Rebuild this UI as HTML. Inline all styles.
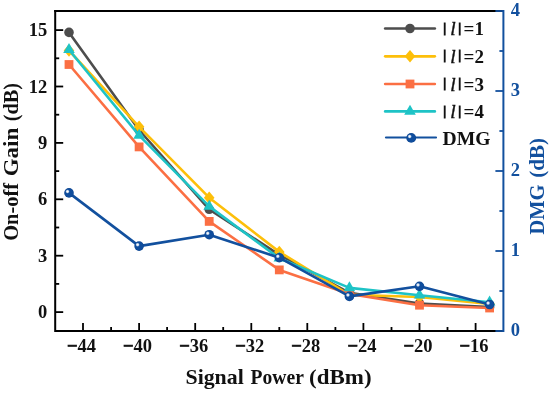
<!DOCTYPE html>
<html><head><meta charset="utf-8"><title>On-off Gain vs Signal Power</title>
<style>
html,body{margin:0;padding:0;background:#fff;}
body{width:550px;height:393px;overflow:hidden;}
svg{display:block;font-family:"Liberation Serif",serif;font-weight:bold;}
</style></head><body>
<svg width="550" height="393" viewBox="0 0 550 393">
<defs><radialGradient id="sg" cx="0.5" cy="0.5" r="0.5"><stop offset="0" stop-color="#0f4d9d"/><stop offset="0.75" stop-color="#0f4d9d"/><stop offset="1" stop-color="#0c4591"/></radialGradient>
<radialGradient id="hl" cx="0.5" cy="0.5" r="0.5"><stop offset="0" stop-color="#fff" stop-opacity="1"/><stop offset="0.45" stop-color="#fff" stop-opacity="0.85"/><stop offset="1" stop-color="#9cc4ee" stop-opacity="0"/></radialGradient></defs>
<rect width="550" height="393" fill="#fff"/>
<g stroke="#000" stroke-width="2" fill="none" stroke-linecap="square">
<path d="M55.2,11.0V331.0H502.4"/><path d="M55.2,11.0H502.4"/>
<path d="M55.2,312.1h8" stroke-linecap="butt" stroke-width="1.8"/>
<path d="M55.2,283.9h4" stroke-linecap="butt" stroke-width="1.8"/>
<path d="M55.2,255.7h8" stroke-linecap="butt" stroke-width="1.8"/>
<path d="M55.2,227.5h4" stroke-linecap="butt" stroke-width="1.8"/>
<path d="M55.2,199.3h8" stroke-linecap="butt" stroke-width="1.8"/>
<path d="M55.2,171.1h4" stroke-linecap="butt" stroke-width="1.8"/>
<path d="M55.2,142.9h8" stroke-linecap="butt" stroke-width="1.8"/>
<path d="M55.2,114.7h4" stroke-linecap="butt" stroke-width="1.8"/>
<path d="M55.2,86.5h8" stroke-linecap="butt" stroke-width="1.8"/>
<path d="M55.2,58.3h4" stroke-linecap="butt" stroke-width="1.8"/>
<path d="M55.2,30.1h8" stroke-linecap="butt" stroke-width="1.8"/>
<path d="M83.0,331.0v-8" stroke-linecap="butt" stroke-width="1.8"/>
<path d="M111.1,331.0v-4" stroke-linecap="butt" stroke-width="1.8"/>
<path d="M139.1,331.0v-8" stroke-linecap="butt" stroke-width="1.8"/>
<path d="M167.1,331.0v-4" stroke-linecap="butt" stroke-width="1.8"/>
<path d="M195.2,331.0v-8" stroke-linecap="butt" stroke-width="1.8"/>
<path d="M223.2,331.0v-4" stroke-linecap="butt" stroke-width="1.8"/>
<path d="M251.3,331.0v-8" stroke-linecap="butt" stroke-width="1.8"/>
<path d="M279.3,331.0v-4" stroke-linecap="butt" stroke-width="1.8"/>
<path d="M307.3,331.0v-8" stroke-linecap="butt" stroke-width="1.8"/>
<path d="M335.4,331.0v-4" stroke-linecap="butt" stroke-width="1.8"/>
<path d="M363.4,331.0v-8" stroke-linecap="butt" stroke-width="1.8"/>
<path d="M391.5,331.0v-4" stroke-linecap="butt" stroke-width="1.8"/>
<path d="M419.5,331.0v-8" stroke-linecap="butt" stroke-width="1.8"/>
<path d="M447.5,331.0v-4" stroke-linecap="butt" stroke-width="1.8"/>
<path d="M475.6,331.0v-8" stroke-linecap="butt" stroke-width="1.8"/>
</g>
<g stroke="#12509e" stroke-width="2" fill="none">
<path d="M503.4,10.0V332.0"/>
<path d="M503.4,331.0h-8" stroke-width="1.8"/>
<path d="M503.4,291.0h-4" stroke-width="1.8"/>
<path d="M503.4,251.0h-8" stroke-width="1.8"/>
<path d="M503.4,211.0h-4" stroke-width="1.8"/>
<path d="M503.4,171.0h-8" stroke-width="1.8"/>
<path d="M503.4,131.0h-4" stroke-width="1.8"/>
<path d="M503.4,91.0h-8" stroke-width="1.8"/>
<path d="M503.4,51.0h-4" stroke-width="1.8"/>
<path d="M503.4,11.0h-8" stroke-width="1.8"/>
</g>
<polyline points="69.0,32.4 139.1,130.0 209.2,209.3 279.3,254.8 349.4,292.8 419.5,303.5 489.6,307.0" fill="none" stroke="#4d4d4d" stroke-width="2.6" stroke-linejoin="round" stroke-linecap="round"/>
<circle cx="69.0" cy="32.4" r="4.8" fill="#4d4d4d"/>
<circle cx="139.1" cy="130.0" r="4.8" fill="#4d4d4d"/>
<circle cx="209.2" cy="209.3" r="4.8" fill="#4d4d4d"/>
<circle cx="279.3" cy="254.8" r="4.8" fill="#4d4d4d"/>
<circle cx="349.4" cy="292.8" r="4.8" fill="#4d4d4d"/>
<circle cx="419.5" cy="303.5" r="4.8" fill="#4d4d4d"/>
<circle cx="489.6" cy="307.0" r="4.8" fill="#4d4d4d"/>
<polyline points="69.0,50.5 139.1,126.8 209.2,197.7 279.3,251.9 349.4,294.8 419.5,297.0 489.6,304.0" fill="none" stroke="#fdbf0a" stroke-width="2.6" stroke-linejoin="round" stroke-linecap="round"/>
<path d="M63.7,50.5L69.0,44.3L74.3,50.5L69.0,56.7Z" fill="#fdbf0a"/>
<path d="M133.8,126.8L139.1,120.6L144.4,126.8L139.1,133.0Z" fill="#fdbf0a"/>
<path d="M203.9,197.7L209.2,191.5L214.5,197.7L209.2,203.9Z" fill="#fdbf0a"/>
<path d="M274.0,251.9L279.3,245.7L284.6,251.9L279.3,258.1Z" fill="#fdbf0a"/>
<path d="M344.1,294.8L349.4,288.6L354.7,294.8L349.4,301.0Z" fill="#fdbf0a"/>
<path d="M414.2,297.0L419.5,290.8L424.8,297.0L419.5,303.2Z" fill="#fdbf0a"/>
<path d="M484.3,304.0L489.6,297.8L494.9,304.0L489.6,310.2Z" fill="#fdbf0a"/>
<polyline points="69.0,64.5 139.1,146.9 209.2,221.4 279.3,269.9 349.4,294.0 419.5,305.2 489.6,308.0" fill="none" stroke="#fb6f43" stroke-width="2.6" stroke-linejoin="round" stroke-linecap="round"/>
<rect x="64.6" y="60.1" width="8.8" height="8.8" fill="#fb6f43"/>
<rect x="134.7" y="142.5" width="8.8" height="8.8" fill="#fb6f43"/>
<rect x="204.8" y="217.0" width="8.8" height="8.8" fill="#fb6f43"/>
<rect x="274.9" y="265.5" width="8.8" height="8.8" fill="#fb6f43"/>
<rect x="345.0" y="289.6" width="8.8" height="8.8" fill="#fb6f43"/>
<rect x="415.1" y="300.8" width="8.8" height="8.8" fill="#fb6f43"/>
<rect x="485.2" y="303.6" width="8.8" height="8.8" fill="#fb6f43"/>
<polyline points="69.0,49.8 139.1,135.4 209.2,206.4 279.3,258.3 349.4,287.9 419.5,295.3 489.6,302.2" fill="none" stroke="#1ec3c6" stroke-width="2.6" stroke-linejoin="round" stroke-linecap="round"/>
<path d="M63.2,53.1L69.0,43.1L74.8,53.1Z" fill="#1ec3c6"/>
<path d="M133.3,138.7L139.1,128.7L144.9,138.7Z" fill="#1ec3c6"/>
<path d="M203.4,209.7L209.2,199.7L215.0,209.7Z" fill="#1ec3c6"/>
<path d="M273.5,261.6L279.3,251.6L285.1,261.6Z" fill="#1ec3c6"/>
<path d="M343.6,291.2L349.4,281.2L355.2,291.2Z" fill="#1ec3c6"/>
<path d="M413.7,298.6L419.5,288.6L425.3,298.6Z" fill="#1ec3c6"/>
<path d="M483.8,305.5L489.6,295.5L495.4,305.5Z" fill="#1ec3c6"/>
<polyline points="69.0,192.9 139.1,246.1 209.2,234.7 279.3,257.7 349.4,296.4 419.5,286.3 489.6,304.5" fill="none" stroke="#12509e" stroke-width="2.6" stroke-linejoin="round" stroke-linecap="round"/>
<circle cx="69.0" cy="192.9" r="4.8" fill="url(#sg)"/><circle cx="67.5" cy="191.5" r="2.3" fill="url(#hl)"/>
<circle cx="139.1" cy="246.1" r="4.8" fill="url(#sg)"/><circle cx="137.6" cy="244.7" r="2.3" fill="url(#hl)"/>
<circle cx="209.2" cy="234.7" r="4.8" fill="url(#sg)"/><circle cx="207.7" cy="233.3" r="2.3" fill="url(#hl)"/>
<circle cx="279.3" cy="257.7" r="4.8" fill="url(#sg)"/><circle cx="277.8" cy="256.3" r="2.3" fill="url(#hl)"/>
<circle cx="349.4" cy="296.4" r="4.8" fill="url(#sg)"/><circle cx="347.9" cy="295.0" r="2.3" fill="url(#hl)"/>
<circle cx="419.5" cy="286.3" r="4.8" fill="url(#sg)"/><circle cx="418.0" cy="284.9" r="2.3" fill="url(#hl)"/>
<circle cx="489.6" cy="304.5" r="4.8" fill="url(#sg)"/><circle cx="488.1" cy="303.1" r="2.3" fill="url(#hl)"/>
<path d="M385.2,28.5H434.8" stroke="#4d4d4d" stroke-width="2.7" stroke-linecap="round"/>
<circle cx="410.0" cy="28.5" r="4.8" fill="#4d4d4d"/>
<text y="31.6" font-size="13" fill="#111" stroke="#111" stroke-width="0.9" text-anchor="middle"><tspan x="444.6">|</tspan><tspan x="459.8">|</tspan></text>
<text x="450.2" y="35.3" font-size="19.5" font-style="italic" font-weight="normal" fill="#111" stroke="#111" stroke-width="0.4">l</text>
<text x="463.6" y="35.3" font-size="19" fill="#111">=1</text>
<path d="M385.2,56.3H434.8" stroke="#fdbf0a" stroke-width="2.7" stroke-linecap="round"/>
<path d="M404.7,56.3L410.0,50.1L415.3,56.3L410.0,62.5Z" fill="#fdbf0a"/>
<text y="59.4" font-size="13" fill="#111" stroke="#111" stroke-width="0.9" text-anchor="middle"><tspan x="444.6">|</tspan><tspan x="459.8">|</tspan></text>
<text x="450.2" y="63.1" font-size="19.5" font-style="italic" font-weight="normal" fill="#111" stroke="#111" stroke-width="0.4">l</text>
<text x="463.6" y="63.1" font-size="19" fill="#111">=2</text>
<path d="M385.2,84.0H434.8" stroke="#fb6f43" stroke-width="2.7" stroke-linecap="round"/>
<rect x="405.6" y="79.6" width="8.8" height="8.8" fill="#fb6f43"/>
<text y="87.1" font-size="13" fill="#111" stroke="#111" stroke-width="0.9" text-anchor="middle"><tspan x="444.6">|</tspan><tspan x="459.8">|</tspan></text>
<text x="450.2" y="90.8" font-size="19.5" font-style="italic" font-weight="normal" fill="#111" stroke="#111" stroke-width="0.4">l</text>
<text x="463.6" y="90.8" font-size="19" fill="#111">=3</text>
<path d="M385.2,111.4H434.8" stroke="#1ec3c6" stroke-width="2.7" stroke-linecap="round"/>
<path d="M404.2,114.7L410.0,104.7L415.8,114.7Z" fill="#1ec3c6"/>
<text y="114.5" font-size="13" fill="#111" stroke="#111" stroke-width="0.9" text-anchor="middle"><tspan x="444.6">|</tspan><tspan x="459.8">|</tspan></text>
<text x="450.2" y="118.2" font-size="19.5" font-style="italic" font-weight="normal" fill="#111" stroke="#111" stroke-width="0.4">l</text>
<text x="463.6" y="118.2" font-size="19" fill="#111">=4</text>
<path d="M386,137.5H436" stroke="#12509e" stroke-width="2.2" stroke-linecap="round"/>
<circle cx="411.2" cy="137.9" r="4.9" fill="url(#sg)"/><circle cx="409.7" cy="136.5" r="2.3" fill="url(#hl)"/>
<text x="442.5" y="144.5" font-size="19" fill="#111" textLength="48" lengthAdjust="spacingAndGlyphs">DMG</text>
<text x="47.2" y="318.1" font-size="18.5" text-anchor="end" fill="#111">0</text>
<text x="47.2" y="261.7" font-size="18.5" text-anchor="end" fill="#111">3</text>
<text x="47.2" y="205.3" font-size="18.5" text-anchor="end" fill="#111">6</text>
<text x="47.2" y="148.9" font-size="18.5" text-anchor="end" fill="#111">9</text>
<text x="47.2" y="92.5" font-size="18.5" text-anchor="end" fill="#111">12</text>
<text x="47.2" y="36.1" font-size="18.5" text-anchor="end" fill="#111">15</text>
<text x="81.5" y="351.9" font-size="18.5" text-anchor="middle" fill="#111"><tspan stroke="#111" stroke-width="0.7">−</tspan>44</text>
<text x="137.6" y="351.9" font-size="18.5" text-anchor="middle" fill="#111"><tspan stroke="#111" stroke-width="0.7">−</tspan>40</text>
<text x="193.7" y="351.9" font-size="18.5" text-anchor="middle" fill="#111"><tspan stroke="#111" stroke-width="0.7">−</tspan>36</text>
<text x="249.8" y="351.9" font-size="18.5" text-anchor="middle" fill="#111"><tspan stroke="#111" stroke-width="0.7">−</tspan>32</text>
<text x="305.8" y="351.9" font-size="18.5" text-anchor="middle" fill="#111"><tspan stroke="#111" stroke-width="0.7">−</tspan>28</text>
<text x="361.9" y="351.9" font-size="18.5" text-anchor="middle" fill="#111"><tspan stroke="#111" stroke-width="0.7">−</tspan>24</text>
<text x="418.0" y="351.9" font-size="18.5" text-anchor="middle" fill="#111"><tspan stroke="#111" stroke-width="0.7">−</tspan>20</text>
<text x="474.1" y="351.9" font-size="18.5" text-anchor="middle" fill="#111"><tspan stroke="#111" stroke-width="0.7">−</tspan>16</text>
<text x="510.8" y="336.0" font-size="18.5" fill="#12509e">0</text>
<text x="510.8" y="256.0" font-size="18.5" fill="#12509e">1</text>
<text x="510.8" y="176.0" font-size="18.5" fill="#12509e">2</text>
<text x="510.8" y="96.0" font-size="18.5" fill="#12509e">3</text>
<text x="510.8" y="16.0" font-size="18.5" fill="#12509e">4</text>
<g font-size="21" fill="#111"><text x="185.5" y="384" textLength="58.2" lengthAdjust="spacingAndGlyphs">Signal</text><text x="250.6" y="384" textLength="53.3" lengthAdjust="spacingAndGlyphs">Power</text><text x="309.1" y="384" textLength="62.5" lengthAdjust="spacingAndGlyphs">(dBm)</text></g>
<g font-size="21" fill="#111" transform="translate(17.9,0) rotate(-90)"><text x="-240.8" y="0" textLength="57.8" lengthAdjust="spacingAndGlyphs">On-off</text><text x="-176.3" y="0" textLength="48.6" lengthAdjust="spacingAndGlyphs">Gain</text><text x="-121.3" y="0" textLength="38.2" lengthAdjust="spacingAndGlyphs">(dB)</text></g>
<g font-size="21" fill="#12509e" transform="translate(544,0) rotate(-90)"><text x="-234.6" y="0" textLength="50.1" lengthAdjust="spacingAndGlyphs">DMG</text><text x="-177.7" y="0" textLength="39.7" lengthAdjust="spacingAndGlyphs">(dB)</text></g>
</svg></body></html>
